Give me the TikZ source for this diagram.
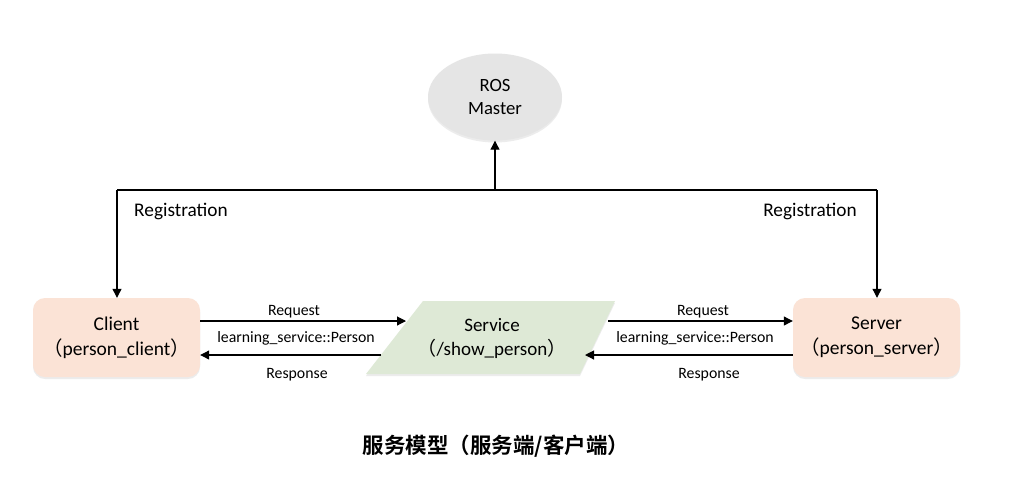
\documentclass[tikz,border=0pt]{standalone}
\usepackage{fontspec}
\setmainfont{Carlito}
\newfontfamily\cjk{Noto Sans CJK SC}
\newfontfamily\cjkb{Noto Sans CJK SC Bold}
\usetikzlibrary{arrows.meta,shapes.geometric,shadows}
\definecolor{peach}{HTML}{FBE3D6}
\definecolor{sage}{HTML}{DEE9D6}
\definecolor{greyfill}{HTML}{E5E5E5}
\tikzset{
  every node/.style={inner sep=0pt},
  softshadow/.style={drop shadow={shadow xshift=0pt,shadow yshift=-2pt,opacity=0.12,fill=black!60}},
  procbox/.style={rounded corners=12pt,fill=peach,minimum width=167pt,minimum height=79pt,align=center,font=\fontsize{19.5}{25}\selectfont,softshadow},
  lbl/.style={font=\fontsize{15.8}{18}\selectfont},
  reglbl/.style={font=\fontsize{19.3}{22}\selectfont},
  conn/.style={line width=1.1pt,-{Triangle[length=9pt,width=9pt]}},
}
\begin{document}
\begin{tikzpicture}[x=1pt,y=-1pt]
\useasboundingbox (0,0) rectangle (1019,491);
\fill[white] (0,0) rectangle (1019,491);
% ROS master
\node[ellipse,fill=greyfill,minimum width=134pt,minimum height=87pt,align=center,font=\fontsize{18.7}{23}\selectfont,softshadow] (master) at (495,97) {ROS\\Master};
% Client and Server
\node[procbox] (client) at (116.5,337.5) {Client\\{\cjk （}person\_client{\cjk ）}};
\node[procbox] (server) at (876.5,337.5) {Server\\{\cjk （}person\_server{\cjk ）}};
% Service parallelogram
\coordinate (s1) at (423,301);
\coordinate (s2) at (615,301);
\coordinate (s3) at (580,374);
\coordinate (s4) at (366,374);
\fill[sage,softshadow] (s1) -- (s2) -- (s3) -- (s4) -- cycle;
\node[align=center,font=\fontsize{19}{24}\selectfont] (service) at (492,338) {Service\\{\cjk （}/show\_person{\cjk ）}};
% registration lines
\coordinate (mid) at (495,190);
\coordinate (lc) at (117,190);
\coordinate (rc) at (877,190);
\draw[line width=1.1pt] (lc) -- (rc);
\draw[conn] (mid) -- (master.south);
\draw[conn] (lc) -- (client.north -| lc);
\draw[conn] (rc) -- (server.north -| rc);
\node[reglbl] (regl) at (181,211) {Registration};
\node[reglbl] (regr) at (810,211) {Registration};
% request / response
\coordinate (svcinL) at (406,321);
\coordinate (svcoutL) at (381,355);
\coordinate (svcoutR) at (608,321);
\coordinate (svcinR) at (585,355);
\draw[conn] (client.east |- svcinL) -- (svcinL);
\draw[conn] (svcoutL) -- (client.east |- svcoutL);
\draw[conn] (svcoutR) -- (server.west |- svcoutR);
\draw[conn] (server.west |- svcinR) -- (svcinR);
\node[lbl] (reql) at (294,312) {Request};
\node[lbl] (typl) at (296,338) {learning\_service::Person};
\node[lbl] (resl) at (297,375) {Response};
\node[lbl] (reqr) at (703,312) {Request};
\node[lbl] (typr) at (695,338) {learning\_service::Person};
\node[lbl] (resr) at (709,375) {Response};
% caption
\node[font=\cjkb\fontsize{21.5}{25}\selectfont] (caption) at (496,446) {服务模型（服务端/客户端）};
\end{tikzpicture}
\end{document}
